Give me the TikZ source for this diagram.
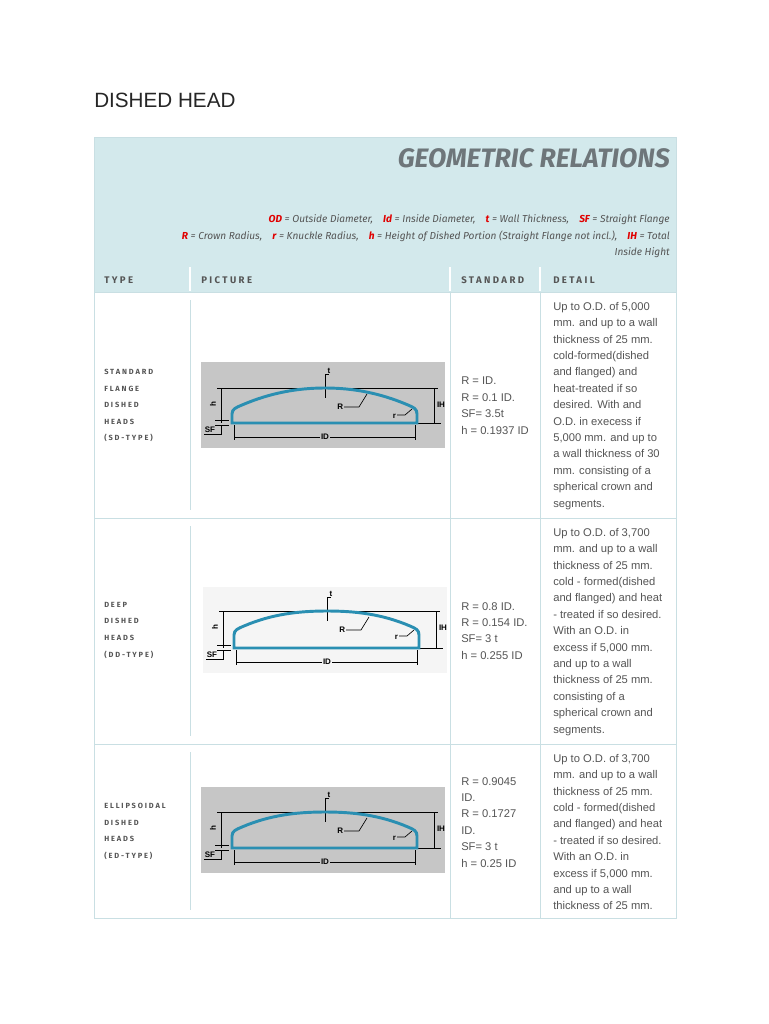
\documentclass[tikz,border=0pt]{standalone}
\usepackage{fontspec}
\setmainfont{Liberation Sans}
\newfontfamily\legendfont{Fira Sans}
\newfontfamily\spacedfont[LetterSpace=25]{Fira Sans}
\usetikzlibrary{positioning}
\definecolor{headbg}{HTML}{D3E9EC}
\definecolor{gridcol}{HTML}{C9DFE3}
\definecolor{titlegrey}{HTML}{6E767A}
\definecolor{textgrey}{HTML}{555555}
\definecolor{keyred}{HTML}{E00000}
\definecolor{picgrey}{HTML}{C6C6C6}
\definecolor{shellblue}{HTML}{2A8FB2}
\tikzset{
  plain/.style={inner sep=0pt,text=textgrey,font=\fontsize{8.4pt}{12.3pt}\selectfont,align=left},
  typelbl/.style={inner sep=0pt,text=textgrey,font=\spacedfont\bfseries\fontsize{5.6pt}{12.4pt}\selectfont,align=left},
  colhead/.style={inner sep=0pt,text=textgrey,font=\spacedfont\bfseries\fontsize{7.2pt}{8pt}\selectfont},
  legend/.style={inner sep=0pt,text=textgrey,font=\legendfont\itshape\fontsize{7.6pt}{9pt}\selectfont},
  dim/.style={black,line width=0.5pt},
  shell/.style={shellblue,line width=2.2pt},
  dimlbl/.style={inner sep=0.5pt,font=\bfseries\fontsize{6pt}{6pt}\selectfont}
}
\newcommand{\key}[1]{\textcolor{keyred}{\bfseries #1}}
% head drawing: #1,#2 = top left, #3 = fill, #4 = knuckle top, #5 = apex
\newcommand{\headpic}[5]{
  \begin{scope}[shift={(#1,#2)}]
    \fill[#3] (0,0) rectangle (244,86);
    \draw[dim] (16,#5) -- (237,#5);
    \draw[dim] (20,#5) -- (20,61);
    \draw[dim] (14,58) -- (28,58) (14,63) -- (28,63);
    \draw[dim] (20,63) -- (20,72) -- (3,72);
    \draw[dim] (233,#5) -- (233,61) (216,61) -- (240,61);
    \draw[dim] (33,63) -- (33,78) (214,63) -- (214,78) (33,75) -- (214,75);
    \draw[dim] (124,#5-14) -- (124,#5+10) (124,#5-14) -- (128,#5-14);
    \draw[shell] (31,61) -- (31,#4) .. controls (31,#4-5) and (35,#4-6.5) .. (41,#4-9)
      .. controls (69,#4-21) and (96,#5) .. (124,#5)
      .. controls (152,#5) and (179,#4-21) .. (207,#4-9)
      .. controls (213,#4-6.5) and (216,#4-5) .. (216,#4) -- (216,61) -- cycle;
    \draw[dim] (143,#5+19) -- (158,#5+19) -- (166,#5+6);
    \draw[dim] (196,#4+1) -- (204,#4+1) -- (211,#4-5);
    \node[dimlbl] (tl) at (128,#5-17) {t};
    \node[dimlbl,left] (rl) at (143,#5+19) {R};
    \node[dimlbl,left] (kl) at (196,#4+2) {r};
    \node[dimlbl] (ihl) at (240,#5+17) {IH};
    \node[dimlbl,rotate=90] (hl) at (12,#5+16) {h};
    \node[dimlbl] (sfl) at (9,68) {SF};
    \node[dimlbl,fill=#3] (idl) at (124,75) {ID};
  \end{scope}
}
\begin{document}
\begin{tikzpicture}[x=0.75pt,y=-0.75pt]
  \useasboundingbox (0,0) rectangle (768,1024);
  \fill[white] (0,0) rectangle (768,1024);
  \node[anchor=base west,inner sep=0pt,font=\fontsize{15.5pt}{16pt}\selectfont,text=black!85] (title) at (94,108) {DISHED HEAD};
  % header block
  \fill[headbg] (94,137) rectangle (676,292);
  \node[anchor=base east,inner sep=0pt,text=titlegrey,font=\legendfont\bfseries\itshape\fontsize{20pt}{22pt}\selectfont] (geo) at (670,167) {GEOMETRIC RELATIONS};
  \node[legend,anchor=base east] (leg1) at (670,222) {\key{OD} = Outside Diameter,\quad \key{Id} = Inside Diameter,\quad \key{t} = Wall Thickness,\quad \key{SF} = Straight Flange};
  \node[legend,anchor=base east] (leg2) at (670,239) {\key{R} = Crown Radius,\quad \key{r} = Knuckle Radius,\quad \key{h} = Height of Dished Portion (Straight Flange not incl.),\quad \key{IH} = Total};
  \node[legend,anchor=base east] (leg3) at (670,255) {Inside Hight};
  \foreach \x in {190,450,540} \draw[white,line width=1pt] (\x,267) -- (\x,291);
  \node[colhead,anchor=base west] (ctype) at (104,283) {TYPE};
  \node[colhead,anchor=base west] (cpic) at (201,283) {PICTURE};
  \node[colhead,anchor=base west] (cstd) at (461,283) {STANDARD};
  \node[colhead,anchor=base west] (cdet) at (553,283) {DETAIL};
  % grid
  \draw[gridcol] (94,137) rectangle (676,918);
  \foreach \y in {292,518,744} \draw[gridcol] (94,\y) -- (676,\y);
  \foreach \a/\b in {300/510,526/736,752/910} \draw[gridcol] (190,\a) -- (190,\b);
  \draw[gridcol] (450,292) -- (450,918) (540,292) -- (540,918);
  % row 1
  \node[typelbl,anchor=north west] (type1) at (104,369) {STANDARD\\FLANGE\\DISHED\\HEADS\\(SD-TYPE)};
  \headpic{201}{362}{picgrey}{52}{26}
  \node[plain,anchor=north west] (std1) at (461,377) {R = ID.\\R = 0.1 ID.\\SF= 3.5t\\h = 0.1937 ID};
  \node[plain,anchor=north west] (det1) at (553,302) {Up to O.D. of 5,000\\mm. and up to a wall\\thickness of 25 mm.\\cold-formed(dished\\and flanged) and\\heat-treated if so\\desired. With and\\O.D. in execess if\\5,000 mm. and up to\\a wall thickness of 30\\mm. consisting of a\\spherical crown and\\segments.};
  % row 2
  \node[typelbl,anchor=north west] (type2) at (104,602) {DEEP\\DISHED\\HEADS\\(DD-TYPE)};
  \headpic{203}{587}{white!96!black}{48}{24}
  \node[plain,anchor=north west] (std2) at (461,602) {R = 0.8 ID.\\R = 0.154 ID.\\SF= 3 t\\h = 0.255 ID};
  \node[plain,anchor=north west] (det2) at (553,528) {Up to O.D. of 3,700\\mm. and up to a wall\\thickness of 25 mm.\\cold - formed(dished\\and flanged) and heat\\- treated if so desired.\\With an O.D. in\\excess if 5,000 mm.\\and up to a wall\\thickness of 25 mm.\\consisting of a\\spherical crown and\\segments.};
  % row 3
  \node[typelbl,anchor=north west] (type3) at (104,803) {ELLIPSOIDAL\\DISHED\\HEADS\\(ED-TYPE)};
  \headpic{201}{787}{picgrey}{49}{25}
  \node[plain,anchor=north west] (std3) at (461,777) {R = 0.9045\\ID.\\R = 0.1727\\ID.\\SF= 3 t\\h = 0.25 ID};
  \node[plain,anchor=north west] (det3) at (553,754) {Up to O.D. of 3,700\\mm. and up to a wall\\thickness of 25 mm.\\cold - formed(dished\\and flanged) and heat\\- treated if so desired.\\With an O.D. in\\excess if 5,000 mm.\\and up to a wall\\thickness of 25 mm.};
\end{tikzpicture}
\end{document}
